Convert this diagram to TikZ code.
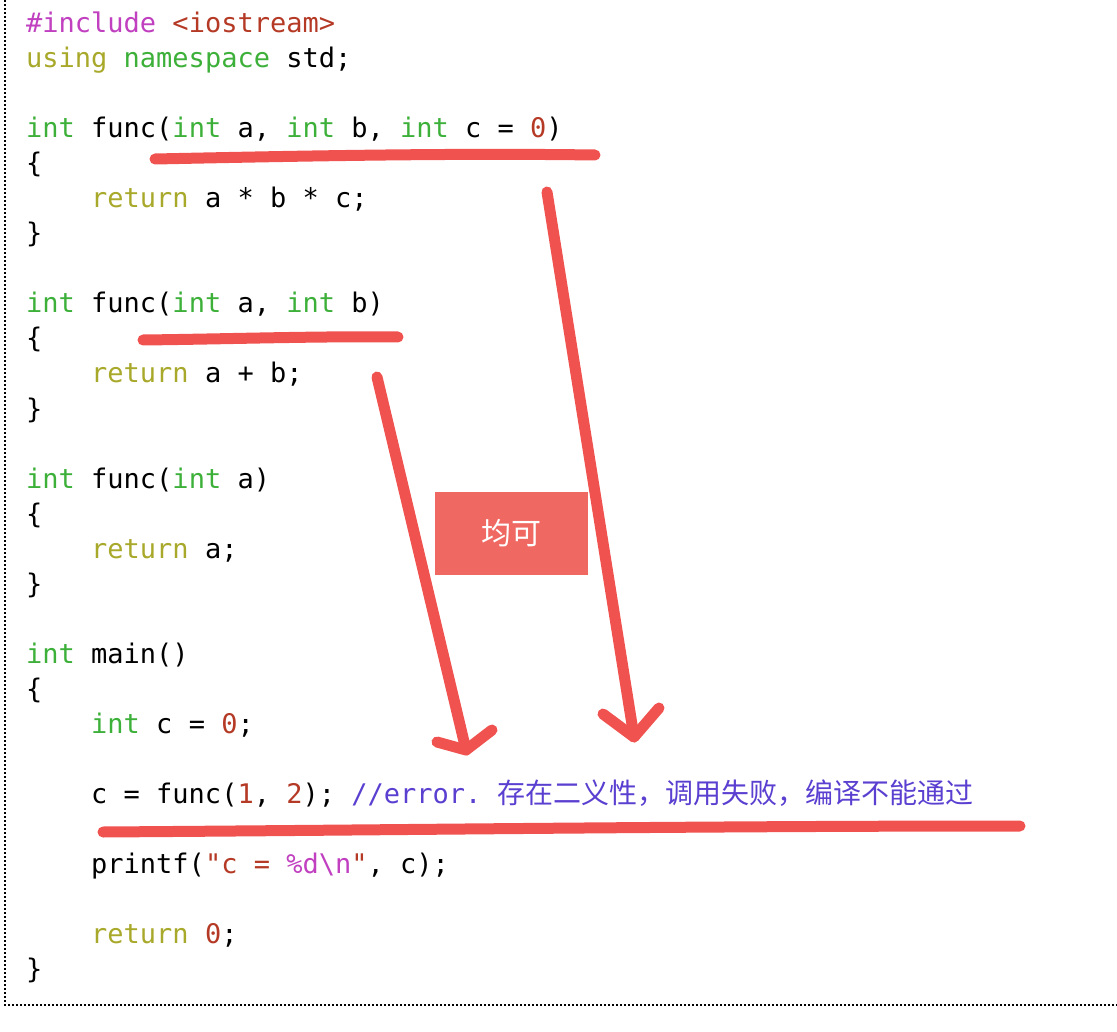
\documentclass[tikz,border=0pt]{standalone}
\usepackage{fontspec}
\setmonofont{DejaVu Sans Mono}
\newfontfamily\cjk{Noto Sans CJK SC}
\definecolor{kw}{HTML}{3DB03A}
\definecolor{rk}{HTML}{A8A82A}
\definecolor{pp}{HTML}{C040C0}
\definecolor{br}{HTML}{B53A26}
\definecolor{cm}{HTML}{5A3FD0}
\definecolor{mk}{HTML}{F0524F}
\definecolor{bx}{HTML}{F06862}
\tikzset{code/.style={anchor=base west,inner sep=0pt,font=\ttfamily\fontsize{27}{30}\selectfont},
 redmark/.style={draw=mk,line width=11pt,line cap=round,line join=round}}
\newcommand{\K}[1]{\textcolor{kw}{#1}}
\newcommand{\R}[1]{\textcolor{rk}{#1}}
\newcommand{\N}[1]{\textcolor{br}{#1}}
\begin{document}
\begin{tikzpicture}[x=1pt,y=-1pt]
\useasboundingbox (0,0) rectangle (1117,1032);
\draw[line width=2pt,dotted] (5,0) -- (5,1005) -- (1117,1005);
\node[code] (l1) at (26,33) {\textcolor{pp}{\#include} \N{<iostream>}};
\node[code] (l2) at (26,68) {\R{using} \K{namespace} std;};
\node[code] (l4) at (26,138) {\K{int} func(\K{int} a, \K{int} b, \K{int} c = \N{0})};
\node[code] (l5) at (26,173) {\{};
\node[code] (l6) at (26,208) {\phantom{xxxx}\R{return} a * b * c;};
\node[code] (l7) at (26,243) {\}};
\node[code] (l9) at (26,313) {\K{int} func(\K{int} a, \K{int} b)};
\node[code] (l10) at (26,348) {\{};
\node[code] (l11) at (26,383) {\phantom{xxxx}\R{return} a + b;};
\node[code] (l12) at (26,418) {\}};
\node[code] (l14) at (26,488) {\K{int} func(\K{int} a)};
\node[code] (l15) at (26,523) {\{};
\node[code] (l16) at (26,558) {\phantom{xxxx}\R{return} a;};
\node[code] (l17) at (26,593) {\}};
\node[code] (l19) at (26,663) {\K{int} main()};
\node[code] (l20) at (26,698) {\{};
\node[code] (l21) at (26,733) {\phantom{xxxx}\K{int} c = \N{0};};
\node[code] (l23) at (26,803) {\phantom{xxxx}c = func(\N{1}, \N{2}); \textcolor{cm}{//error.}};
\node[code,font=\cjk\fontsize{28}{30}\selectfont,text=cm] (cmt) at (497,803) {存在二义性，调用失败，编译不能通过};
\node[code] (l25) at (26,873) {\phantom{xxxx}printf(\N{"c = }\textcolor{pp}{\%d\textbackslash n}\N{"}, c);};
\node[code] (l27) at (26,943) {\phantom{xxxx}\R{return} \N{0};};
\node[code] (l28) at (26,978) {\}};
\node[fill=bx,minimum width=153pt,minimum height=83pt,inner sep=0pt,text=white,font=\cjk\fontsize{30}{32}\selectfont] (box) at (511.5,533.5) {均可};
\coordinate (u1a) at (155,159); \coordinate (u1b) at (595,155);
\coordinate (u2a) at (143,340); \coordinate (u2b) at (398,337);
\coordinate (u3a) at (103,832); \coordinate (u3b) at (1020,826);
\draw[redmark] (u1a) .. controls (300,156) and (450,153) .. (u1b);
\draw[redmark] (u2a) .. controls (230,339) and (320,336) .. (u2b);
\draw[redmark] (u3a) .. controls (400,830) and (700,826) .. (u3b);
\coordinate (a1s) at (547,192); \coordinate (a1t) at (634,737);
\coordinate (a2s) at (377,377); \coordinate (a2t) at (466,750);
\coordinate (h1a) at (603,714); \coordinate (h1b) at (659,708);
\coordinate (h2a) at (437,742); \coordinate (h2b) at (492,730);
\draw[redmark] (a1s) -- (a1t);
\draw[redmark] (h1a) -- (a1t) -- (h1b);
\draw[redmark] (a2s) -- (a2t);
\draw[redmark] (h2a) -- (a2t) -- (h2b);
\end{tikzpicture}
\end{document}
